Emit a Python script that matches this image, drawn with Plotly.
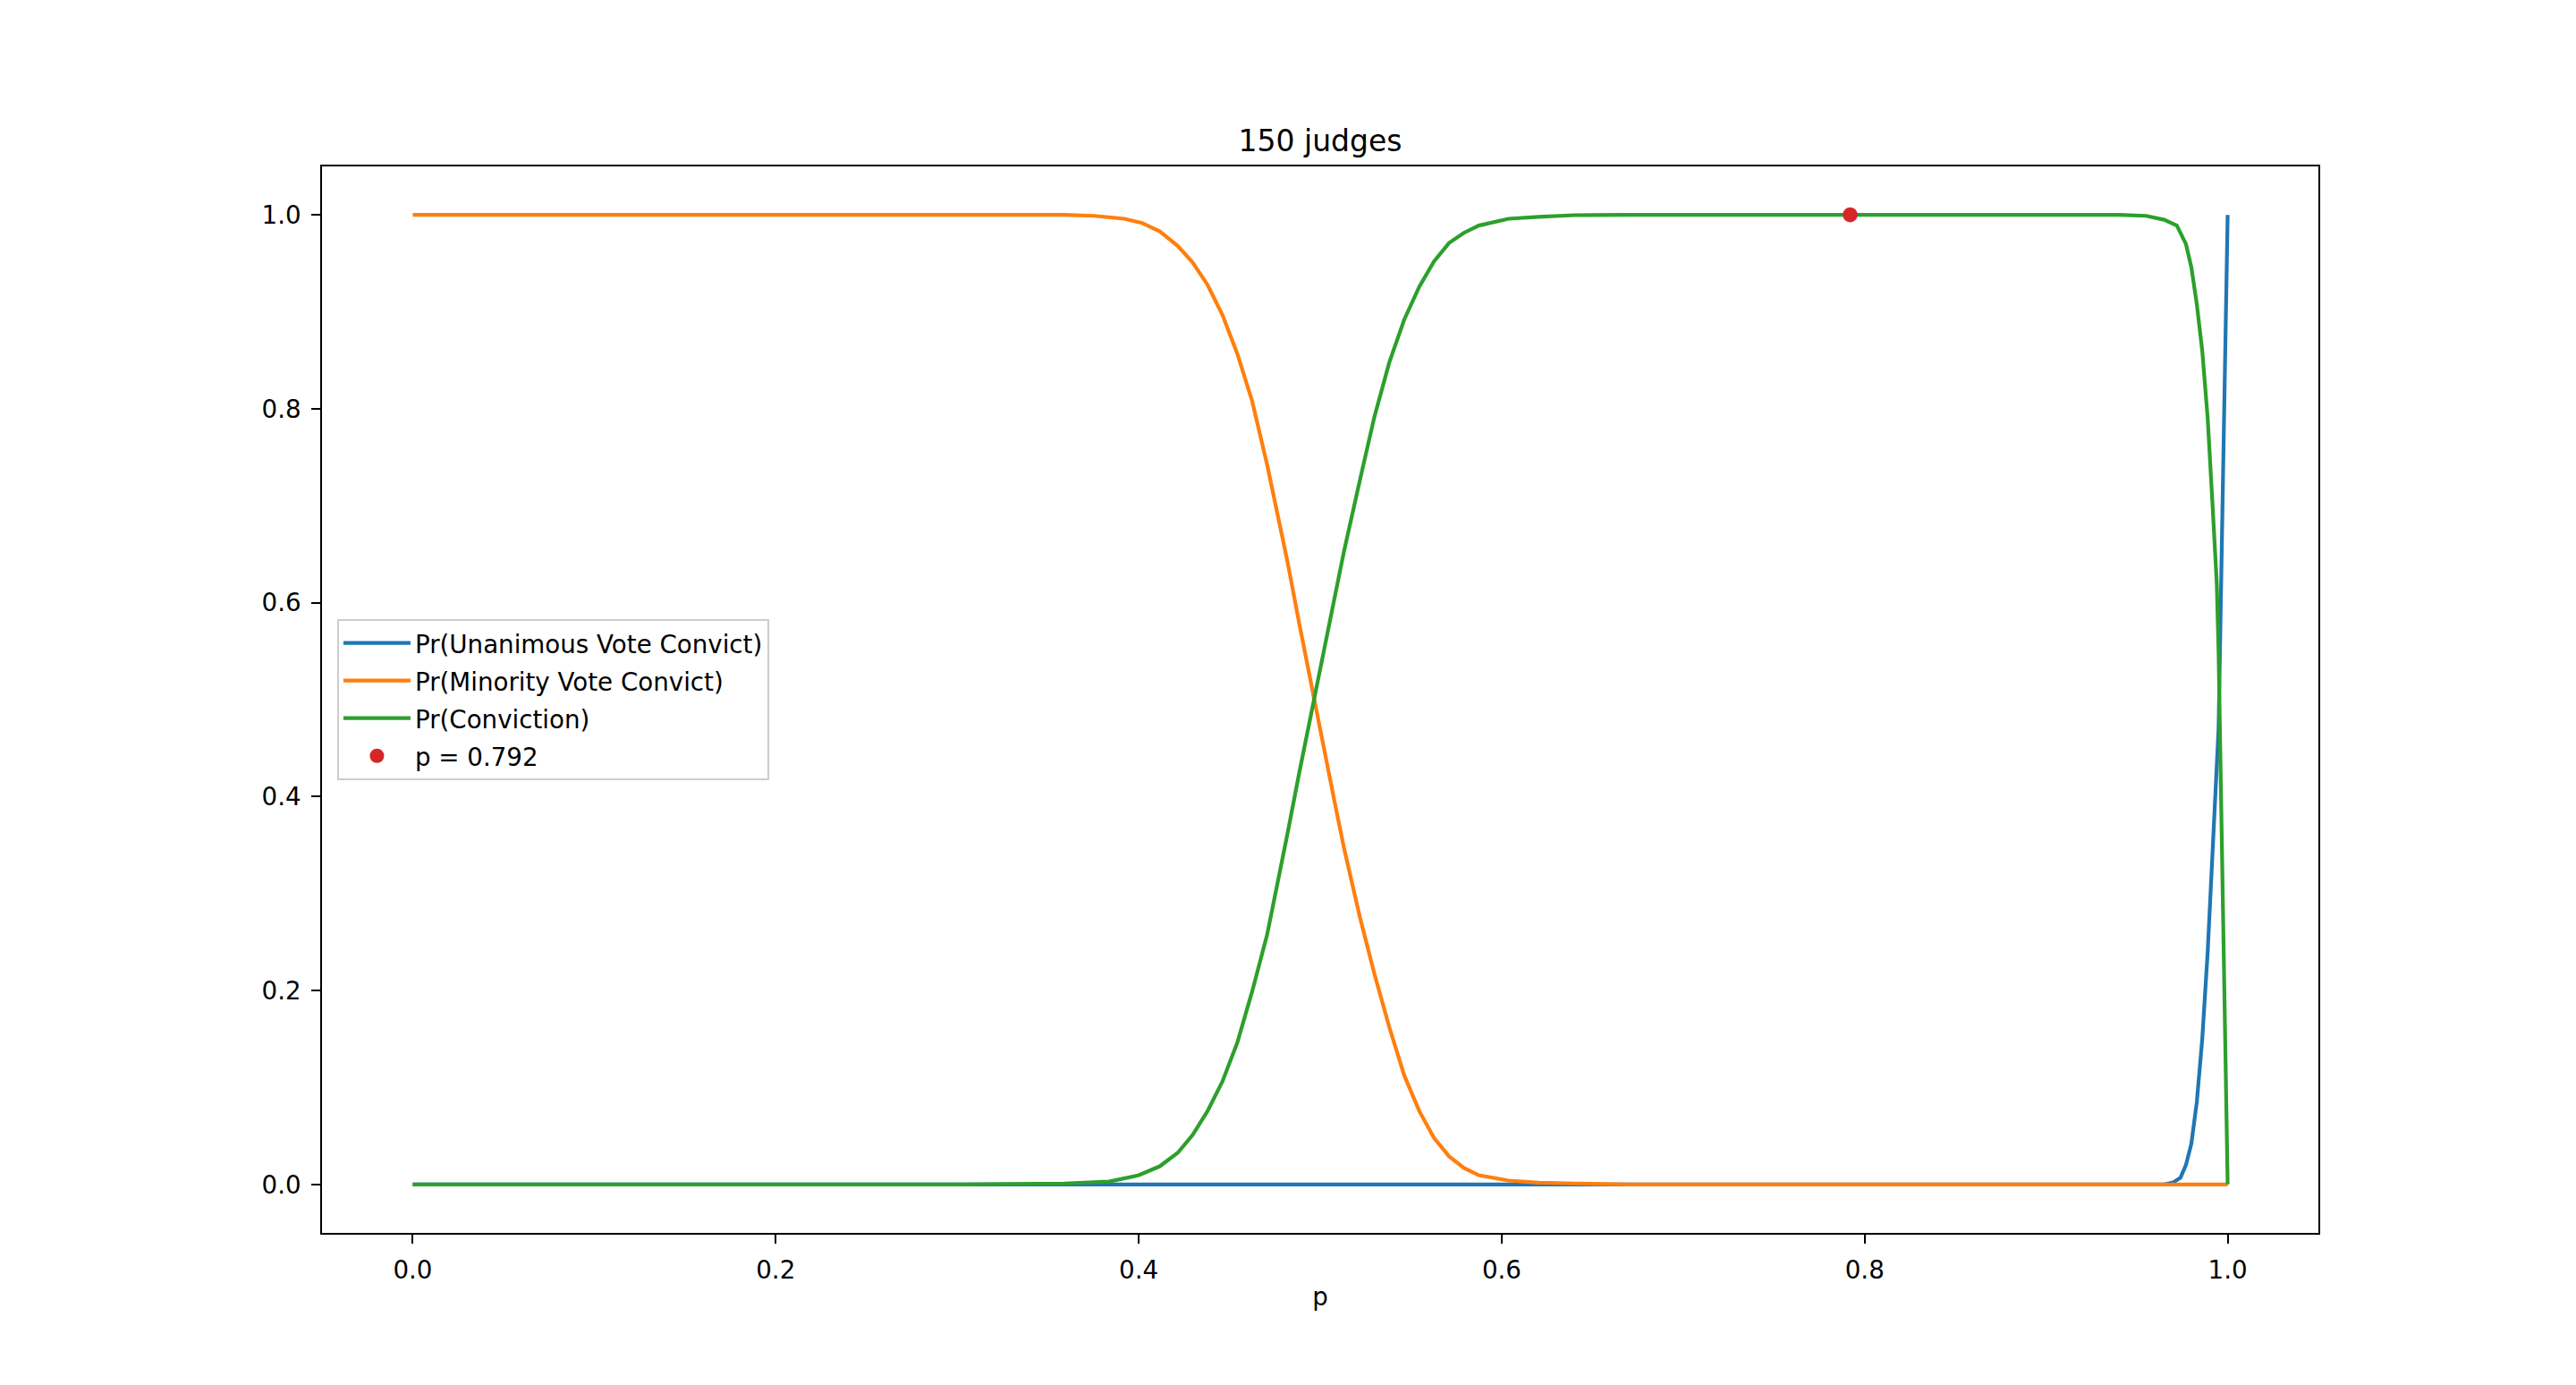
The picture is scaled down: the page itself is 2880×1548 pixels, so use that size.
import plotly.graph_objects as go

# ---- data ----
title_text = "150 judges"
x_label = "p"
tick_vals = [0.0, 0.2, 0.4, 0.6, 0.8, 1.0]
tick_text = ["0.0", "0.2", "0.4", "0.6", "0.8", "1.0"]

# Pr(Unanimous Vote Convict)
p_unanimous = [0.0, 0.965, 0.970, 0.974, 0.977, 0.980, 0.983, 0.986, 0.989, 0.992, 0.995, 1.0]
y_unanimous = [0.0, 0.0, 0.002, 0.007, 0.020, 0.042, 0.085, 0.150, 0.240, 0.350, 0.470, 1.0]

# Pr(Minority Vote Convict)
p_minority = [0.0, 0.30, 0.359, 0.3755, 0.392, 0.4018, 0.4116, 0.4215, 0.4297, 0.4379, 0.4461,
              0.4543, 0.4625, 0.4708, 0.4757, 0.482, 0.4885, 0.4966, 0.503, 0.508, 0.513,
              0.5217, 0.5299, 0.5381, 0.5463, 0.5546, 0.5627, 0.5710, 0.5792, 0.5874, 0.6038,
              0.6203, 0.640, 0.67, 1.0]
y_minority = [1.0, 1.0, 1.0, 0.999, 0.996, 0.9917, 0.983, 0.968, 0.951, 0.928, 0.897,
              0.857, 0.808, 0.742, 0.700, 0.642, 0.578, 0.500, 0.440, 0.394, 0.348,
              0.277, 0.217, 0.162, 0.1125, 0.0756, 0.048, 0.029, 0.017, 0.0095, 0.004,
              0.0018, 0.001, 0.0, 0.0]

# Pr(Conviction)
p_conviction = [0.0, 0.30, 0.359, 0.3837, 0.4001, 0.4116, 0.4215, 0.4297, 0.4379, 0.4461, 0.4543,
                0.4625, 0.4708, 0.4765, 0.482, 0.4885, 0.4966, 0.503, 0.508, 0.513, 0.5217,
                0.5299, 0.5381, 0.5463, 0.5546, 0.5627, 0.5710, 0.5792, 0.5874, 0.6038, 0.6203,
                0.640, 0.67, 0.94, 0.955, 0.965, 0.972, 0.977, 0.980, 0.983, 0.986, 0.989,
                0.992, 0.994, 0.995, 1.0]
y_conviction = [0.0, 0.0, 0.001, 0.003, 0.0095, 0.0187, 0.0326, 0.051, 0.0756, 0.106, 0.146,
                0.199, 0.258, 0.310, 0.362, 0.425, 0.500, 0.560, 0.606, 0.652, 0.725,
                0.792, 0.848, 0.892, 0.926, 0.952, 0.971, 0.9815, 0.989, 0.996, 0.998,
                0.9997, 1.0, 1.0, 0.999, 0.995, 0.989, 0.970, 0.946, 0.908, 0.860, 0.790,
                0.690, 0.620, 0.550, 0.0]

# highlighted point
p_point = [0.792]
y_point = [1.0]
point_label = "p = 0.792"

names = ["Pr(Unanimous Vote Convict)", "Pr(Minority Vote Convict)", "Pr(Conviction)"]
colors = ["#1f77b4", "#ff7f0e", "#2ca02c", "#d62728"]

W, H = 2880, 1548
FONT = "DejaVu Sans"
FS = 27.7
LW = 4.2

fig = go.Figure()
for i, (px_, py_, nm, col) in enumerate(zip([p_unanimous, p_minority, p_conviction],
                                            [y_unanimous, y_minority, y_conviction],
                                            names, colors)):
    fig.add_trace(go.Scatter(x=px_, y=py_, mode="lines", name=nm, legendgroup=f"g{i}",
                             line=dict(color=col, width=LW)))
fig.add_trace(go.Scatter(x=p_point, y=y_point, mode="markers", name=point_label,
                         legendgroup="g3",
                         marker=dict(color=colors[3], size=16.7, line=dict(width=0))))

axis_common = dict(
    showgrid=False, zeroline=False, showline=True, mirror=True,
    linecolor="black", linewidth=2.2, ticks="outside", ticklen=9.7, tickwidth=2.2,
    tickcolor="black", tickfont=dict(family=FONT, size=FS, color="black"),
    tickvals=tick_vals, ticktext=tick_text, ticklabelstandoff=6,
)

fig.update_layout(
    width=W, height=H, autosize=False,
    margin=dict(l=360, r=288, t=186, b=170, pad=0),
    paper_bgcolor="white", plot_bgcolor="white",
    font=dict(family=FONT, size=FS, color="black"),
    title=dict(text=title_text, x=0.5, xref="paper", xanchor="center",
               y=1 - 157 / H, yref="container", yanchor="middle",
               font=dict(family=FONT, size=33, color="black")),
    xaxis=dict(range=[-0.05, 1.05], title=dict(text=x_label, standoff=5,
               font=dict(family=FONT, size=FS, color="black")), **axis_common),
    yaxis=dict(range=[-0.05, 1.05], **axis_common),
    legend=dict(x=0.0075, y=0.5, xanchor="left", yanchor="middle",
                bgcolor="rgba(255,255,255,0.8)", bordercolor="#cccccc", borderwidth=2.2,
                font=dict(family=FONT, size=FS, color="black"), itemwidth=75,
                traceorder="grouped", tracegroupgap=3),
    showlegend=True,
)

fig.write_html("out.html", config={"displayModeBar": False},
               post_script="document.body.style.margin='0';document.body.style.overflow='hidden';")
